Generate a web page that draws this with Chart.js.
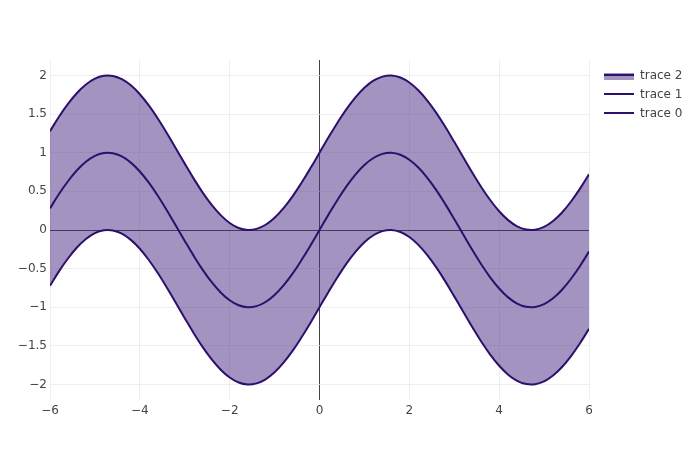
<!DOCTYPE html>
<html>
<head>
<meta charset="utf-8">
<script src="https://cdn.jsdelivr.net/npm/chart.js@4"></script>
<style>
  body { margin: 0; background: #fff; }
  #wrap { width: 700px; height: 450px; }
</style>
</head>
<body>
<div id="wrap"><canvas id="chart" width="700" height="450"></canvas></div>
<script>
// x positions along the curves
const xs = [-6, -5.8, -5.6, -5.4, -5.2, -5, -4.8, -4.6, -4.4, -4.2, -4, -3.8, -3.6, -3.4, -3.2,
    -3, -2.8, -2.6, -2.4, -2.2, -2, -1.8, -1.6, -1.4, -1.2, -1, -0.8, -0.6, -0.4, -0.2,
    0, 0.2, 0.4, 0.6, 0.8, 1, 1.2, 1.4, 1.6, 1.8, 2, 2.2, 2.4, 2.6, 2.8,
    3, 3.2, 3.4, 3.6, 3.8, 4, 4.2, 4.4, 4.6, 4.8, 5, 5.2, 5.4, 5.6, 5.8, 6];

// trace 0 - lower curve
const trace0 = [-0.721, -0.535, -0.369, -0.227, -0.117, -0.041, -0.004, -0.006, -0.048, -0.128,
    -0.243, -0.388, -0.557, -0.744, -0.942, -1.141, -1.335, -1.516, -1.675, -1.808,
    -1.909, -1.974, -2.000, -1.985, -1.932, -1.841, -1.717, -1.565, -1.389, -1.199,
    -1.000, -0.801, -0.611, -0.435, -0.283, -0.159, -0.068, -0.015, 0.000, -0.026,
    -0.091, -0.192, -0.325, -0.484, -0.665, -0.859, -1.058, -1.256, -1.443, -1.612,
    -1.757, -1.872, -1.952, -1.994, -1.996, -1.959, -1.883, -1.773, -1.631, -1.465, -1.279];

// trace 1 - middle curve
const trace1 = [0.279, 0.465, 0.631, 0.773, 0.883, 0.959, 0.996, 0.994, 0.952, 0.872,
    0.757, 0.612, 0.443, 0.256, 0.058, -0.141, -0.335, -0.516, -0.675, -0.808,
    -0.909, -0.974, -1.000, -0.985, -0.932, -0.841, -0.717, -0.565, -0.389, -0.199,
    0.000, 0.199, 0.389, 0.565, 0.717, 0.841, 0.932, 0.985, 1.000, 0.974,
    0.909, 0.808, 0.675, 0.516, 0.335, 0.141, -0.058, -0.256, -0.443, -0.612,
    -0.757, -0.872, -0.952, -0.994, -0.996, -0.959, -0.883, -0.773, -0.631, -0.465, -0.279];

// trace 2 - upper curve, filled down to trace 0
const trace2 = [1.279, 1.465, 1.631, 1.773, 1.883, 1.959, 1.996, 1.994, 1.952, 1.872,
    1.757, 1.612, 1.443, 1.256, 1.058, 0.859, 0.665, 0.484, 0.325, 0.192,
    0.091, 0.026, 0.000, 0.015, 0.068, 0.159, 0.283, 0.435, 0.611, 0.801,
    1.000, 1.199, 1.389, 1.565, 1.717, 1.841, 1.932, 1.985, 2.000, 1.974,
    1.909, 1.808, 1.675, 1.516, 1.335, 1.141, 0.942, 0.744, 0.557, 0.388,
    0.243, 0.128, 0.048, 0.006, 0.004, 0.041, 0.117, 0.227, 0.369, 0.535, 0.721];

const traceNames = ['trace 0', 'trace 1', 'trace 2'];
const xTicks = [-6, -4, -2, 0, 2, 4, 6];
const yTicks = [-2, -1.5, -1, -0.5, 0, 0.5, 1, 1.5, 2];

const lineColor = '#2d0f6c';
const fillColor = 'rgba(72, 40, 130, 0.5)';
const fontFamily = '"DejaVu Sans", Verdana, sans-serif';

function pts(ys) {
    return xs.map((x, i) => ({x: x, y: ys[i]}));
}

function fmt(v) {
    return v < 0 ? '\u2212' + Math.abs(v) : String(v);
}

// plotly-style legend on the right, drawn in reverse order
const sideLegend = {
    id: 'sideLegend',
    afterDraw(chart) {
        const ctx = chart.ctx;
        const ds = chart.data.datasets;
        ctx.save();
        ctx.font = '12px ' + fontFamily;
        ctx.textBaseline = 'middle';
        let y = 75;
        for (let i = ds.length - 1; i >= 0; i--) {
            if (ds[i].fill) {
                ctx.fillStyle = fillColor;
                ctx.fillRect(604, y - 2, 30, 7);
            }
            ctx.strokeStyle = lineColor;
            ctx.lineWidth = 2;
            ctx.beginPath();
            ctx.moveTo(604, y);
            ctx.lineTo(634, y);
            ctx.stroke();
            ctx.fillStyle = '#444';
            ctx.fillText(ds[i].label, 640, y + 1);
            y += 19;
        }
        ctx.restore();
    }
};

const datasets = [trace0, trace1, trace2].map((ys, i) => ({
    label: traceNames[i],
    data: pts(ys),
    borderColor: lineColor,
    borderWidth: 2,
    pointRadius: 0,
    tension: 0.4,
    fill: i === 2 ? '-2' : false,
    backgroundColor: fillColor
}));

const config = {
    type: 'line',
    data: { datasets: datasets },
    options: {
        responsive: false,
        animation: false,
        layout: {
            padding: { top: 60, right: 111, left: 0, bottom: 0 }
        },
        scales: {
            x: {
                type: 'linear',
                min: -6,
                max: 6,
                afterBuildTicks: s => { s.ticks = xTicks.map(v => ({value: v})); },
                afterFit: s => { s.height = 50; },
                border: { display: false },
                grid: {
                    drawTicks: false,
                    color: c => c.tick && c.tick.value === 0 ? '#444' : '#eee'
                },
                ticks: {
                    padding: 4,
                    color: '#444',
                    font: { family: fontFamily, size: 12 },
                    callback: v => fmt(v)
                }
            },
            y: {
                type: 'linear',
                min: -2.2,
                max: 2.2,
                afterBuildTicks: s => { s.ticks = yTicks.map(v => ({value: v})); },
                afterFit: s => { s.width = 50; },
                border: { display: false },
                grid: {
                    drawTicks: false,
                    color: c => c.tick && c.tick.value === 0 ? '#444' : '#eee'
                },
                ticks: {
                    padding: 3,
                    color: '#444',
                    font: { family: fontFamily, size: 12 },
                    callback: v => fmt(v)
                }
            }
        },
        plugins: {
            legend: { display: false },
            tooltip: { enabled: false }
        }
    },
    plugins: [sideLegend]
};

var myChart = new Chart(document.getElementById('chart'), config);
</script>
</body>
</html>
